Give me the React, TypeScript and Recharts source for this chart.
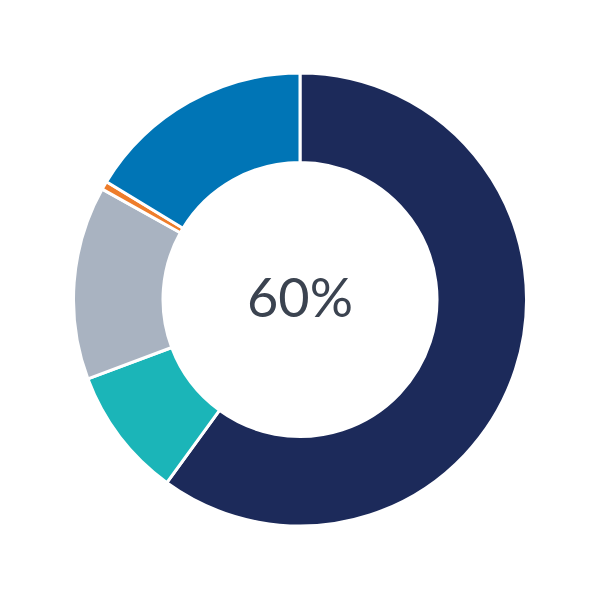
import { PieChart, Pie, Cell, Label } from 'recharts'

const segments = ['Navy', 'Teal', 'Gray', 'Orange', 'Blue']
const shares = [60, 9.3, 13.8, 0.6, 16.3]
const colors = ['#1c2a5a', '#1bb5b8', '#a9b3c1', '#ee7d2b', '#0075b6']
const centerLabel = '60%'

export default function App() {
  const data = segments.map((name, i) => ({ name, value: shares[i] }))

  return (
    <div style={{ position: 'absolute', left: 0, top: 0, width: 600, height: 600, background: '#fff' }}>
      <PieChart width={600} height={600} margin={{ top: 0, right: 0, bottom: 0, left: 0 }}>
        <Pie
          data={data}
          dataKey="value"
          nameKey="name"
          cx={300}
          cy={299.5}
          innerRadius={137}
          outerRadius={226.5}
          startAngle={90}
          endAngle={-270}
          stroke="#fff"
          strokeWidth={3}
          isAnimationActive={false}
        >
          {data.map((d, i) => (
            <Cell key={d.name} fill={colors[i]} />
          ))}
          <Label
            value={centerLabel}
            position="center"
            dy={-2}
            style={{ fontFamily: 'Lato, sans-serif', fontSize: 54, fill: '#3b4350', fontWeight: 400 }}
          />
        </Pie>
      </PieChart>
    </div>
  )
}
